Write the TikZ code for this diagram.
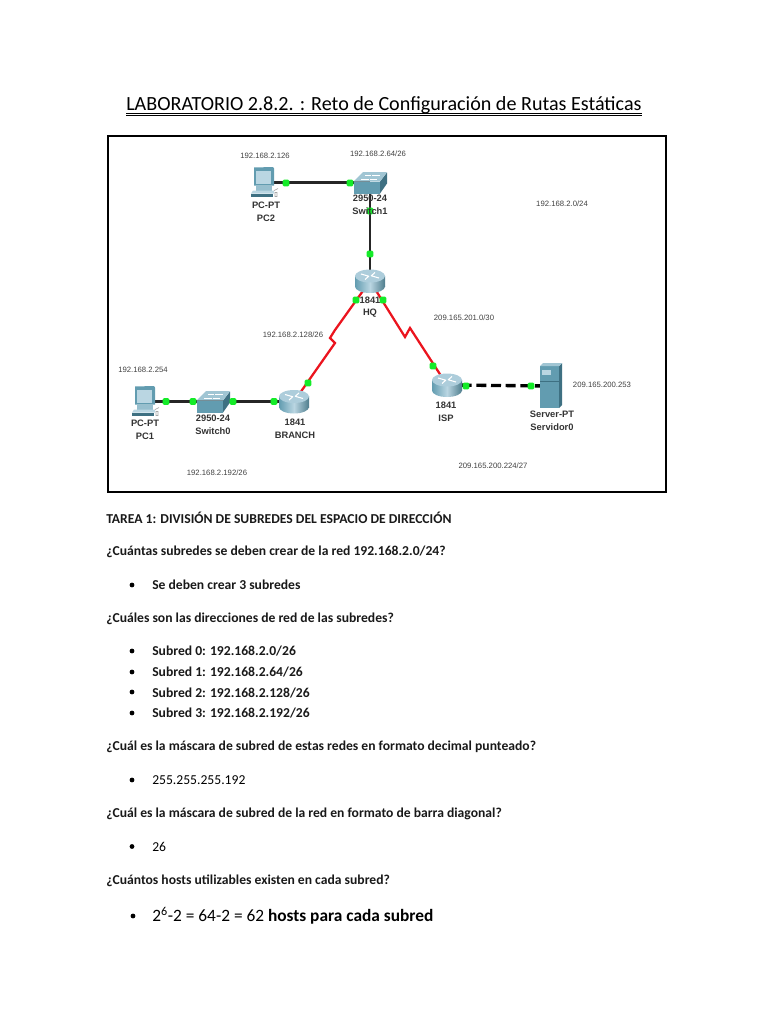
\documentclass[tikz,border=0pt]{standalone}
\usepackage{fontspec}
\setmainfont{Carlito}
\newfontfamily\netfont{Liberation Sans}
\usetikzlibrary{calc}
\definecolor{portgreen}{RGB}{20,235,40}
\definecolor{linkred}{RGB}{235,20,30}
\definecolor{devteal}{RGB}{98,156,176}
\definecolor{devdark}{RGB}{62,112,130}
\definecolor{devlight}{RGB}{186,214,226}
\tikzset{
  frame/.style={draw=black, line width=2.2pt},
  link/.style={draw=black!85, line width=2.1pt},
  link-red/.style={draw=linkred, line width=1.7pt, line join=miter},
  link-dash/.style={draw=black, line width=2.5pt, dash pattern=on 7.5pt off 3.5pt},
  port-dot/.style={rectangle, rounded corners=1pt, fill=portgreen, minimum size=5pt, inner sep=0pt},
  ip-label/.style={font=\netfont\fontsize{5.8}{7}\selectfont, text=black!75, inner sep=0pt},
  dev-label/.style={font=\netfont\bfseries\fontsize{7}{9.5}\selectfont, text=black!80, align=center, inner sep=0pt},
  title-text/.style={font=\fontsize{15.08}{18}\selectfont, anchor=base west, inner sep=0pt},
  head-text/.style={font=\bfseries\fontsize{10.22}{12}\selectfont, anchor=base west, inner sep=0pt, text=black!90},
  item-text/.style={head-text},
  item-plain/.style={head-text, font=\fontsize{10.22}{12}\selectfont, text=black},
  bullet-dot/.style={circle, fill=black, minimum size=3.6pt, inner sep=0pt}
}
\newcommand{\routericon}[1]{
  \begin{scope}[shift={(#1)}]
    \shade[left color=devteal, right color=devteal!80!black, middle color=devlight] (0,5.5) ellipse (15 and 6.5);
    \shade[left color=devteal, right color=devteal!80!black, middle color=devlight] (-15,-5) rectangle (15,5.5);
    \fill[devlight!85!devteal] (0,-5) ellipse (15 and 6.5);
    % arrows on the lid
    \draw[white, line width=0.8pt] (-9,-7) -- (-2,-5) (9,-3) -- (2,-5) (-5,-1.5) -- (-1,-5) (5,-8.5) -- (1,-5);
  \end{scope}
}
\newcommand{\switchicon}[1]{
  \begin{scope}[shift={(#1)}]
    \fill[devteal] (-16.5,-1) rectangle (10,11);
    \fill[devdark] (10,-1) -- (17,-10) -- (17,1) -- (10,11) -- cycle;
    \fill[devlight!70!devteal] (-16.5,-1) -- (-7,-10.5) -- (17,-10.5) -- (10,-1) -- cycle;
    \draw[white, line width=0.5pt] (-9,-3.5) -- (-1,-3.5) (2,-7.5) -- (10,-7.5) (-5,-7) -- (1,-7) (0,-3) -- (7,-3);
  \end{scope}
}
\newcommand{\pcicon}[1]{
  \begin{scope}[shift={(#1)}]
    % monitor
    \fill[devteal] (-10,-15) -- (9,-15.5) -- (10,-14) -- (10,3) -- (-10,3) -- cycle;
    \fill[devlight] (-8,-12) rectangle (7,1);
    % base and keyboard
    \fill[devlight!60!devteal] (-8,3) rectangle (8,8);
    \fill[devlight] (-11,8) -- (10,8) -- (10,11) -- (-13,11) -- cycle;
    \fill[devdark] (-13,11) rectangle (9,14);
    % mouse
    \draw[black!35, line width=0.5pt] (10,8) -- (14,6) (11,10) -- (13,10) -- (13,14) -- (11,14) -- cycle;
  \end{scope}
}
\newcommand{\servericon}[1]{
  \begin{scope}[shift={(#1)}]
    \fill[devteal] (-11,-20) rectangle (8,22);
    \fill[devdark] (8,-20) -- (11,-23) -- (11,19) -- (8,22) -- cycle;
    \fill[devlight!70!devteal] (-11,-20) -- (-8,-23) -- (11,-23) -- (8,-20) -- cycle;
    \fill[devlight] (-9,-16) rectangle (0,-11);
    \draw[devdark, line width=0.4pt] (-11,-5) -- (8,-5);
  \end{scope}
}
\begin{document}
\begin{tikzpicture}[x=0.75pt, y=-0.75pt]
  \useasboundingbox (0,0) rectangle (768,1024);
  % Title
  \node[title-text] (title) at (126,110.5) {LABORATORIO 2.8.2. : Reto de Configuración de Rutas Estáticas};
  \draw[line width=0.45pt] ([yshift=-2.2pt]title.base west) -- ([yshift=-2.2pt]title.base east);
  \draw[line width=0.45pt] ([yshift=-3.7pt]title.base west) -- ([yshift=-3.7pt]title.base east);
  % Frame
  \draw[frame] (108,136) rectangle (666,492);
  % Devices
  \coordinate (PC2) at (264,182.5);
  \coordinate (Switch1) at (370,182.5);
  \coordinate (HQ) at (370,281);
  \coordinate (BRANCH) at (294,401.5);
  \coordinate (ISP) at (447,385);
  \coordinate (Switch0) at (213,401.5);
  \coordinate (PC1) at (145,401.5);
  \coordinate (Servidor0) at (551,386);
  % Bends of the serial links
  \coordinate (zig-a) at (335,330);
  \coordinate (zig-b) at (330,338);
  \coordinate (zig-c) at (335,343);
  \coordinate (zig-d) at (405,337);
  \coordinate (zig-e) at (410,328);
  % Links
  \draw[link] (PC2) -- (Switch1);
  \draw[link] (Switch1) -- (HQ);
  \draw[link] (PC1) -- (Switch0);
  \draw[link] (Switch0) -- (BRANCH);
  \draw[link-red] (HQ) -- (zig-a) -- (zig-b) -- (zig-c) -- (BRANCH);
  \draw[link-red] (HQ) -- (zig-d) -- (zig-e) -- (ISP);
  \draw[link-dash] (ISP) -- (Servidor0);
  % Icons
  \pcicon{PC2}
  \switchicon{Switch1}
  \routericon{HQ}
  \routericon{BRANCH}
  \routericon{ISP}
  \switchicon{Switch0}
  \pcicon{PC1}
  \servericon{Servidor0}
  % Ports
  \node[port-dot] (port-pc2) at (286,183) {};
  \node[port-dot] (port-sw1-l) at (350,183) {};
  \node[port-dot] (port-sw1-b) at (370,211) {};
  \node[port-dot] (port-hq-t) at (370,254) {};
  \node[port-dot] (port-hq-l) at (356,300) {};
  \node[port-dot] (port-hq-r) at (383,300) {};
  \node[port-dot] (port-br-t) at (308,383) {};
  \node[port-dot] (port-br-l) at (274,401.5) {};
  \node[port-dot] (port-sw0-r) at (233,401.5) {};
  \node[port-dot] (port-sw0-l) at (193,401.5) {};
  \node[port-dot] (port-pc1) at (166,401.5) {};
  \node[port-dot] (port-isp-t) at (433,366) {};
  \node[port-dot] (port-isp-r) at (466,386) {};
  \node[port-dot] (port-srv) at (531,386) {};
  % Device names
  \node[dev-label] (name-pc2) at (266,212) {PC-PT\\PC2};
  \node[dev-label] (name-sw1) at (370,205) {2950-24\\Switch1};
  \node[dev-label] (name-hq) at (370,307) {1841\\HQ};
  \node[dev-label] (name-br) at (295,429) {1841\\BRANCH};
  \node[dev-label] (name-isp) at (446,412) {1841\\ISP};
  \node[dev-label] (name-sw0) at (213,424.5) {2950-24\\Switch0};
  \node[dev-label] (name-pc1) at (145,429.5) {PC-PT\\PC1};
  \node[dev-label] (name-srv) at (552,421) {Server-PT\\Servidor0};
  % Addresses
  \node[ip-label] (ip-pc2) at (265,156) {192.168.2.126};
  \node[ip-label] (ip-sw1) at (378,154) {192.168.2.64/26};
  \node[ip-label] (ip-net) at (562,204) {192.168.2.0/24};
  \node[ip-label] (ip-hqbr) at (293,335) {192.168.2.128/26};
  \node[ip-label] (ip-hqisp) at (464,318) {209.165.201.0/30};
  \node[ip-label] (ip-srv) at (602,385) {209.165.200.253};
  \node[ip-label] (ip-pc1) at (143,370) {192.168.2.254};
  \node[ip-label] (ip-sw0) at (217,473) {192.168.2.192/26};
  \node[ip-label] (ip-ispnet) at (493,466) {209.165.200.224/27};
  % Questions and answers
  \node[head-text] (tarea) at (106,523.3) {TAREA 1: DIVISIÓN DE SUBREDES DEL ESPACIO DE DIRECCIÓN};
  \node[head-text] (q-one) at (106,555.7) {¿Cuántas subredes se deben crear de la red 192.168.2.0/24?};
  \node[bullet-dot] (b-one) at (132,585) {};
  \node[item-text] (a-one) at (152,589) {Se deben crear 3 subredes};
  \node[head-text] (q-two) at (106,622) {¿Cuáles son las direcciones de red de las subredes?};
  \node[bullet-dot] (b-two-a) at (132,651) {};
  \node[item-text] (a-two-a) at (152,655.7) {Subred 0: 192.168.2.0/26};
  \node[bullet-dot] (b-two-b) at (132,672) {};
  \node[item-text] (a-two-b) at (152,676.7) {Subred 1: 192.168.2.64/26};
  \node[bullet-dot] (b-two-c) at (132,692) {};
  \node[item-text] (a-two-c) at (152,697.3) {Subred 2: 192.168.2.128/26};
  \node[bullet-dot] (b-two-d) at (132,713) {};
  \node[item-text] (a-two-d) at (152,717.7) {Subred 3: 192.168.2.192/26};
  \node[head-text] (q-three) at (106,750.7) {¿Cuál es la máscara de subred de estas redes en formato decimal punteado?};
  \node[bullet-dot] (b-three) at (132,780) {};
  \node[item-plain] (a-three) at (152,784) {255.255.255.192};
  \node[head-text] (q-four) at (106,817) {¿Cuál es la máscara de subred de la red en formato de barra diagonal?};
  \node[bullet-dot] (b-four) at (132,846.5) {};
  \node[item-plain] (a-four) at (152,851) {26};
  \node[head-text] (q-five) at (106,884) {¿Cuántos hosts utilizables existen en cada subred?};
  \node[bullet-dot] (b-five) at (133,916) {};
  \node[item-plain, font=\fontsize{13}{15}\selectfont] (a-five) at (152,921.7) {$\mathrm{2^6}$-2 = 64-2 = 62 \textbf{hosts para cada subred}};
\end{tikzpicture}
\end{document}
